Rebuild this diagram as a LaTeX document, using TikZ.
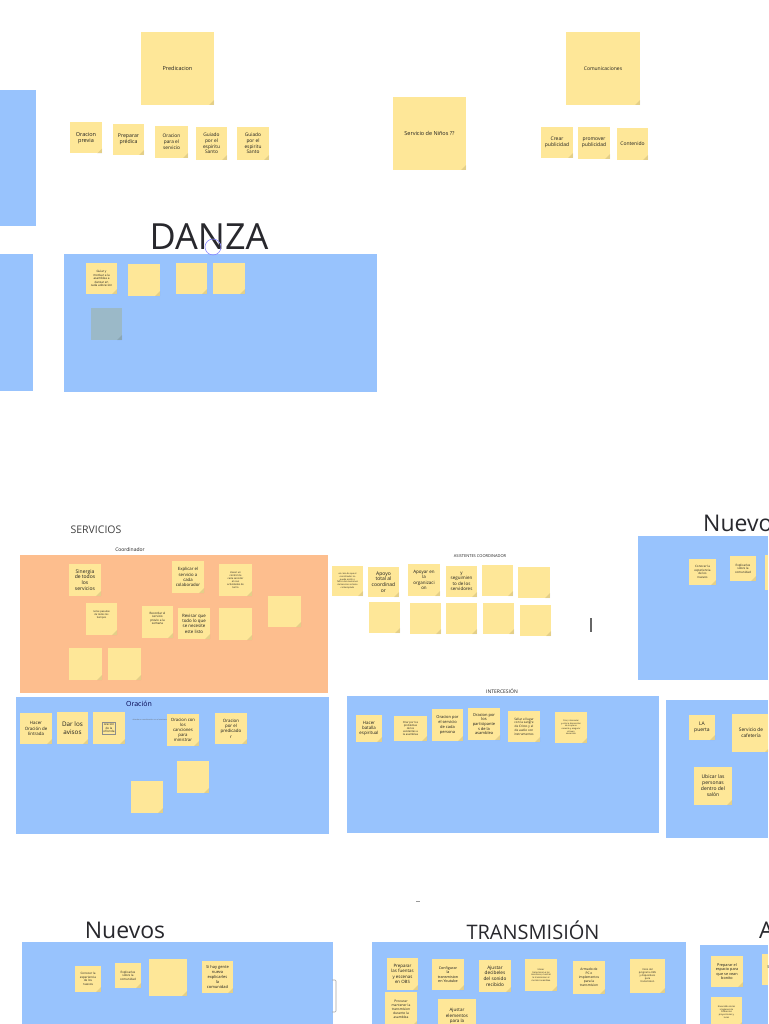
\documentclass[tikz,border=0pt]{standalone}
\usepackage{fontspec}
\setmainfont{Open Sans}
\newcommand\fsz[2]{\fontsize{#1pt}{#2pt}\selectfont}
\definecolor{blueP}{RGB}{152,195,253}
\definecolor{noteY}{RGB}{254,231,152}
\definecolor{orangeP}{RGB}{253,190,142}
\definecolor{grayN}{RGB}{155,185,200}
\definecolor{txt}{RGB}{30,30,30}
\definecolor{ttl}{RGB}{40,40,45}
\tikzset{
  sticky/.style={fill=noteY, inner sep=0.5pt, align=center, text=txt,
    path picture={\fill[black,opacity=0.10] ([xshift=-5pt]path picture bounding box.south east) -- (path picture bounding box.south east) -- ([yshift=5pt]path picture bounding box.south east) -- cycle;}},
  wh/.style 2 args={minimum width=#1pt, minimum height=#2pt},
  title/.style={text=ttl, inner sep=0pt},
  panel/.style={fill=blueP}
}
\begin{document}
\begin{tikzpicture}[x=1pt,y=-1pt]
\useasboundingbox (0,0) rectangle (768,1024);
\clip (0,0) rectangle (768,1024);
\fill[white] (0,0) rectangle (768,1024);

% ---------- top area ----------
\fill[panel] (0,90) rectangle (36,226);
\fill[panel] (0,254) rectangle (33,391);

\node[sticky, wh={73}{73}, font={\fsz{5.5}{6.5}}] (pred) at (177.5,68.5) {Predicacion};
\node[sticky, wh={32}{31}, font={\fsz{5.5}{6.5}}] (p1) at (86,138) {Oracion\\previa};
\node[sticky, wh={31}{31}, font={\fsz{5.2}{6.2}}] (p2) at (128.5,139.5) {Preparar\\prédica};
\node[sticky, wh={33}{32}, font={\fsz{4.8}{5.8}}] (p3) at (171.5,142) {Oracion\\para el\\servicio};
\node[sticky, wh={31}{33}, font={\fsz{4.8}{5.6}}] (p4) at (211.5,143.5) {Guiado\\por el\\espiritu\\Santo};
\node[sticky, wh={32}{33}, font={\fsz{4.8}{5.6}}] (p5) at (253,143.5) {Guiado\\por el\\espiritu\\Santo};

\node[sticky, wh={73}{73}, font={\fsz{5.5}{6.5}}] (nin) at (429.5,133.5) {Servicio de Niños ??};
\node[sticky, wh={74}{73}, font={\fsz{5}{6}}] (com) at (603,68.5) {Comunicaciones};
\node[sticky, wh={32}{31}, font={\fsz{5}{6}}] (c1) at (557,142.5) {Crear\\publicidad};
\node[sticky, wh={32}{32}, font={\fsz{5}{6}}] (c2) at (594,143) {promover\\publicidad};
\node[sticky, wh={31}{32}, font={\fsz{5}{6}}] (c3) at (632.5,144) {Contenido};

% ---------- DANZA ----------
\fill[panel] (64,254) rectangle (377,392);
\node[title, font={\fsz{36}{40}}] (tdanza) at (209,237) {DANZA};
\draw[color=blue!45!white, line width=0.6pt] (213,247) circle (8);
\node[sticky, wh={31}{31}, font={\fsz{3}{3.5}}] (d1) at (101.5,278.5) {Guiar y\\motivar a la\\asamblea a\\danzar en\\cada adoracion};
\node[sticky, wh={32}{32}] (d2) at (144,280) {};
\node[sticky, wh={31}{31}] (d3) at (191.5,278.5) {};
\node[sticky, wh={32}{31}] (d4) at (229,278.5) {};
\node[sticky, fill=grayN, wh={31}{32}] (d5) at (106.5,324) {};

% ---------- SERVICIOS ----------
\node[title, font={\fsz{10.5}{12}}, text=black!75] (tserv) at (96,530) {SERVICIOS};
\node[title, font={\fsz{5}{6}}, text=txt] (tcoord) at (130,550) {Coordinador};
\fill[orangeP] (20,555) rectangle (328,693);
\node[sticky, wh={32}{32}, font={\fsz{5}{5.8}}] (o1) at (85,580) {Sinergia\\de todos\\los\\servicios};
\node[sticky, wh={32}{32}, font={\fsz{4.3}{5.2}}] (o2) at (188,577) {Explicar el\\servicio a\\cada\\colaborador};
\node[sticky, wh={33}{32}, font={\fsz{2.5}{3}}] (o3) at (235.5,580) {Llevar un\\control de\\cada servidor\\en sus\\actividades de\\turno};
\node[sticky, wh={31}{32}, font={\fsz{2.5}{3}}] (o4) at (101.5,619) {notas pasadas\\de todos los\\tiempos\\ \\ \\ };
\node[sticky, wh={31}{32}, font={\fsz{3}{3.6}}] (o5) at (157.5,622) {Recordar el\\servicio\\previo a la\\semana\\ \\ };
\node[sticky, wh={32}{31}, font={\fsz{4.4}{5.3}}] (o6) at (194,623.5) {Revisar que\\todo lo que\\se necesite\\este listo};
\node[sticky, wh={33}{32}] (o7) at (235.5,624) {};
\node[sticky, wh={33}{31}] (o8) at (284.5,611.5) {};
\node[sticky, wh={33}{32}] (o9) at (85.5,664) {};
\node[sticky, wh={33}{32}] (o10) at (124.5,664) {};

% ---------- ASISTENTES ----------
\node[title, font={\fsz{4}{5}}, text=txt] (tasis) at (480,556) {ASISTENTES COORDINADOR};
\node[sticky, wh={31}{30}, font={\fsz{2.2}{2.7}}] (a1) at (347.5,581) {en caso de que el\\coordinador no\\pueda asistir o\\falte a las reuniones\\del servicio se tiene\\contemplado};
\node[sticky, wh={31}{30}, font={\fsz{5}{5.8}}] (a2) at (383.5,582) {Apoyo\\total al\\coordinad\\or};
\node[sticky, wh={32}{32}, font={\fsz{4.5}{5.4}}] (a3) at (424,580) {Apoyar en\\la\\organizaci\\on};
\node[sticky, wh={31}{31}, font={\fsz{4.5}{5.4}}] (a4) at (461.5,581.5) {y\\seguimien\\to de los\\servidores};
\node[sticky, wh={31}{31}] (a5) at (497.5,580.5) {};
\node[sticky, wh={32}{31}] (a6) at (534,582.5) {};
\node[sticky, wh={31}{31}] (a7) at (384.5,617.5) {};
\node[sticky, wh={31}{31}] (a8) at (425.5,618.5) {};
\node[sticky, wh={31}{31}] (a9) at (461.5,618.5) {};
\node[sticky, wh={31}{31}] (a10) at (498.5,618.5) {};
\node[sticky, wh={31}{31}] (a11) at (535.5,620.5) {};
\draw[line width=1.5pt, color=black!60] (591,618) -- (591,632);

% ---------- Nuevo (right) ----------
\fill[panel] (638,536) rectangle (768,680);
\node[title, font={\fsz{23}{26}}, anchor=west] (tnuevo) at (703,523) {Nuevo};
\node[sticky, wh={27}{26}, font={\fsz{3}{3.6}}] (nv1) at (702.5,572) {Conocer la\\experiencia\\de los\\nuevos};
\node[sticky, wh={26}{25}, font={\fsz{3}{3.6}}] (nv2) at (743,568.5) {Explicarles\\sobre la\\comunidad};
\node[sticky, wh={30}{35}] (nv3) at (780,572) {};

% ---------- Oracion ----------
\fill[panel] (16,697) rectangle (329,834);
\node[title, font={\fsz{7}{8}}, text=black!70!blue] (tora) at (139,704) {Oración};
\node[sticky, wh={32}{31}, font={\fsz{4.4}{5.3}}] (r1) at (36,728.5) {Hacer\\Oración de\\Entrada};
\node[sticky, wh={31}{32}, font={\fsz{6.3}{7.3}}] (r2) at (72.5,728) {Dar los\\avisos};
\node[sticky, wh={32}{32}] (r3) at (109,728) {};
\node[draw=black!45, line width=0.3pt, inner sep=1pt, align=center, text=txt, font={\fsz{3}{3.6}}] (r3t) at (109,728) {oracion\\de la\\ofrenda};
\node[text=black!60, inner sep=0pt, font={\fsz{1.8}{2}}] (r3x) at (150,720) {ofrenda en coordinación con el ministerio};
\node[sticky, wh={32}{32}, font={\fsz{4.3}{5.1}}] (r4) at (183,730) {Oracion con\\los\\canciones\\para\\ministrar};
\node[sticky, wh={32}{31}, font={\fsz{4.4}{5.3}}] (r5) at (231,728.5) {Oracion\\por el\\predicado\\r};
\node[sticky, wh={32}{32}] (r6) at (193,777) {};
\node[sticky, wh={32}{32}] (r7) at (147,797) {};

% ---------- Intercesion ----------
\fill[panel] (347,696) rectangle (659,833);
\node[title, font={\fsz{5}{6}}, text=txt] (tint) at (502,691) {INTERCESIÓN};
\node[sticky, wh={26}{27}, font={\fsz{4.4}{5.3}}] (i1) at (369,728.5) {Hacer\\batalla\\espiritual};
\node[sticky, wh={33}{25}, font={\fsz{2.7}{3.2}}] (i2) at (410.5,728.5) {Orar por los\\problemas\\de los\\asistentes a\\la asamblea};
\node[sticky, wh={31}{32}, font={\fsz{4}{4.9}}] (i3) at (447.5,725) {Oracion por\\el servicio\\de cada\\persona};
\node[sticky, wh={32}{32}, font={\fsz{4}{4.6}}] (i4) at (484,724) {Oracion por\\los\\participante\\s de la\\asamblea};
\node[sticky, wh={32}{31}, font={\fsz{3.1}{3.7}}] (i5) at (524,726.5) {Sellar el lugar\\con la sangre\\de Cristo y el\\de audio con\\instrumentos};
\node[sticky, wh={32}{31}, font={\fsz{2.1}{2.6}}] (i6) at (571,727.5) {Orar, interceder\\y estar a disposición\\de lo que se\\necesite y asegurar\\el buen\\desarrollo};

% ---------- right panel ----------
\fill[panel] (666,700) rectangle (768,838);
\node[sticky, wh={26}{25}, font={\fsz{5}{6}}] (rr1) at (702,727.5) {LA\\puerta};
\node[sticky, wh={38}{38}, font={\fsz{4.8}{5.8}}] (rr2) at (751,733) {Servicio de\\cafetería};
\node[sticky, wh={38}{38}, font={\fsz{5}{6}}] (rr3) at (713,786) {Ubicar las\\personas\\dentro del\\salón};

\draw[color=black!40, line width=0.5pt] (416,901) -- (420,901);

% ---------- Nuevos bottom ----------
\node[title, font={\fsz{23}{26}}] (tnuevos) at (125,930) {Nuevos};
\fill[panel] (22,942) rectangle (333,1030);
\node[sticky, wh={26}{26}, font={\fsz{3}{3.6}}] (nb1) at (88,979) {Conocer la\\experiencia\\de los\\nuevos};
\node[sticky, wh={26}{25}, font={\fsz{3}{3.6}}] (nb2) at (128,975.5) {Explicarles\\sobre la\\comunidad};
\node[sticky, wh={38}{37}] (nb3) at (168,977.5) {};
\node[sticky, wh={31}{32}, font={\fsz{4}{4.8}}] (nb4) at (217.5,977) {Si hay gente\\nueva\\explicarles\\la\\comunidad};
\draw[color=black!35, line width=0.6pt, rounded corners=1pt] (332,980) -- (336,980) -- (336,1012) -- (332,1012);

% ---------- Transmision ----------
\node[title, font={\fsz{20}{23}}] (ttra) at (533,930) {TRANSMISIÓN};
\fill[panel] (372,942) rectangle (686,1030);
\node[sticky, wh={31}{32}, font={\fsz{4.4}{5.2}}] (t1) at (402.5,974) {Preparar\\las fuentas\\y escenas\\en OBS};
\node[sticky, wh={32}{31}, font={\fsz{3.7}{4.4}}] (t2) at (448,974.5) {Configurar\\la\\transmision\\en Youtube};
\node[sticky, wh={32}{32}, font={\fsz{4.7}{5.6}}] (t3) at (495,976) {Ajustar\\decibeles\\del sonido\\recibido};
\node[sticky, wh={32}{32}, font={\fsz{2.2}{2.7}}] (t4) at (541,975) {Ubicar\\transmision a los\\monitores, mostrar\\la transmision al\\monitor asamblea};
\node[sticky, wh={32}{33}, font={\fsz{3.3}{4}}] (t5) at (589,977.5) {Armado de\\PC o\\implementos\\para la\\transmision};
\node[sticky, wh={35}{34}, font={\fsz{2.5}{3}}] (t6) at (647.5,976) {Inicio del\\programa OBS\\y dispositivos\\para\\transmision};
\node[sticky, wh={32}{34}, font={\fsz{3.3}{4}}] (t7) at (401,1009) {Procurar\\mantener la\\transmision\\durante la\\asamblea};
\node[sticky, wh={38}{34}, font={\fsz{4.5}{5.4}}, anchor=north] (t8) at (457,999) {Ajustar\\elementos\\para la};

% ---------- right bottom ----------
\fill[panel] (700,945) rectangle (768,1030);
\node[title, font={\fsz{23}{26}}, anchor=west] (ta) at (759,930) {A};
\node[sticky, wh={32}{31}, font={\fsz{3.8}{4.6}}] (rb1) at (727,971.5) {Preparar el\\espacio para\\que se vean\\bonito};
\node[sticky, wh={30}{31}, font={\fsz{3.8}{4.6}}] (rb2) at (777,969.5) {Servicio de\\cafetería};
\node[sticky, wh={31}{30}, font={\fsz{2.2}{2.7}}] (rb3) at (726.5,1012) {Encendido de las\\imagenes de\\Diferentes\\proyecciones y\\luces};
\end{tikzpicture}
\end{document}
